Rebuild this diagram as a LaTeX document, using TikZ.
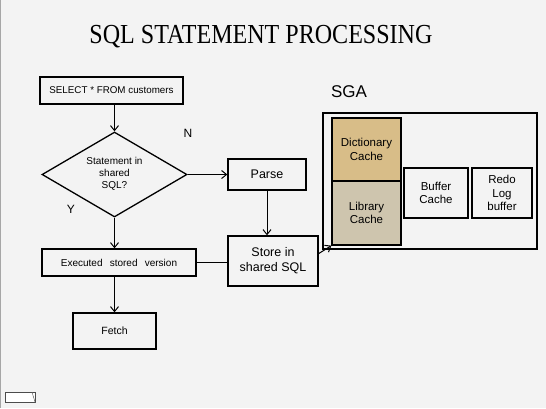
\documentclass[tikz,border=0pt]{standalone}
\usepackage{fontspec}
\setmainfont{Liberation Sans}
\newfontfamily\titlefont{Liberation Serif}
\usetikzlibrary{arrows.meta,shapes.geometric}
\definecolor{bgc}{HTML}{F3F3F3}
\definecolor{dictc}{HTML}{D8BD88}
\definecolor{libc}{HTML}{CEC5AE}
\begin{document}
\begin{tikzpicture}[x=1pt,y=-1pt,
  box/.style={draw=black,line width=1.3pt,fill=bgc,inner sep=0pt,align=center},
  conn/.style={line width=1pt,-{Straight Barb[length=5pt,width=8pt]}},
  plain/.style={line width=1pt}]
\fill[bgc] (0,0) rectangle (546,408);
\useasboundingbox (0,0) rectangle (546,408);
\draw[gray!70,line width=1pt] (0.5,0) -- (0.5,408);
% title
\node (title) at (261,37) {\scalebox{0.875}[1]{\titlefont\fontsize{27.5}{30}\selectfont SQL STATEMENT PROCESSING}};
% flow
\node[box,minimum width=143,minimum height=27,font=\fontsize{9.8}{11}\selectfont] (sel) at (111.5,90.5) {SELECT * FROM customers};
\node[box,diamond,minimum width=145,minimum height=85,aspect=1.7] (dia) at (114.5,174.5) {};
\node[align=center,font=\fontsize{10}{12}\selectfont] (diat) at (114.5,174) {Statement in\\shared\\SQL?};
\node[box,minimum width=78,minimum height=31,font=\fontsize{12.5}{14}\selectfont] (parse) at (267,174.5) {Parse};
\node[box,minimum width=90,minimum height=50,font=\fontsize{12.5}{15}\selectfont] (store) at (273,261) {Store in\\shared SQL};
\node[box,minimum width=154,minimum height=27,font=\fontsize{10}{11}\selectfont] (exec) at (119,262.5) {Executed\ \ \,stored\ \ \,version};
\node[box,minimum width=83,minimum height=36,font=\fontsize{10.5}{12}\selectfont] (fetch) at (114.5,331) {Fetch};
\node[font=\fontsize{12}{14}\selectfont] (N) at (188,133) {N};
\node[font=\fontsize{12}{14}\selectfont] (Y) at (71,209) {Y};
% SGA
\node[font=\fontsize{17}{20}\selectfont] (sgat) at (349,92) {SGA};
\node[box,minimum width=214,minimum height=136] (sga) at (430,181) {};
\node[box,fill=dictc,minimum width=69,minimum height=63,font=\fontsize{11.5}{13.5}\selectfont] (dict) at (366.5,149.5) {Dictionary\\Cache};
\node[box,fill=libc,minimum width=69,minimum height=64,font=\fontsize{11.5}{13.5}\selectfont] (lib) at (366.5,213) {Library\\Cache};
\node[box,minimum width=64,minimum height=50,font=\fontsize{11.5}{13.5}\selectfont] (buf) at (436,193) {Buffer\\Cache};
\node[box,minimum width=60,minimum height=50,font=\fontsize{11.5}{13.5}\selectfont] (redo) at (502,193) {Redo\\Log\\buffer};
% connectors
\draw[conn] (dia.north |- sel.south) -- (dia.north);
\draw[conn] (dia.east) -- (parse.west);
\draw[conn] (parse.south) -- (parse.south |- store.north);
\draw[conn] (dia.south) -- (dia.south |- exec.north);
\draw[plain] (store.west |- exec.east) -- (exec.east);
\draw[conn] (fetch.north |- exec.south) -- (fetch.north);
\coordinate (sa) at (318,254);
\draw[conn] (sa) -- (lib.south west);
% small icon
\node[draw=black!70,fill=white,line width=0.6pt,minimum width=30,minimum height=10,inner sep=0pt] (icon) at (20,397.5) {};
\draw[black!60,line width=0.5pt] (icon.south east) -- ([xshift=12pt]icon.north);
\end{tikzpicture}
\end{document}
